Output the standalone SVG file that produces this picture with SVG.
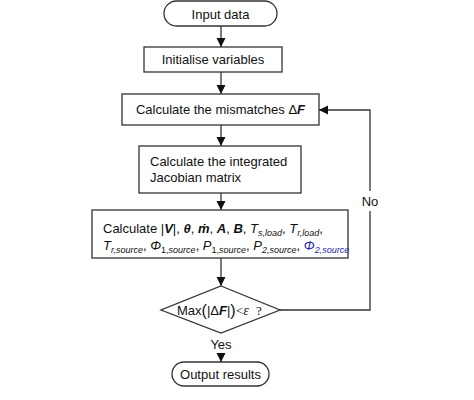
<svg xmlns="http://www.w3.org/2000/svg" width="474" height="400" viewBox="0 0 474 400">
<style>
.b{fill:#fff;stroke:#333;stroke-width:1.3}
.t{font-family:"Liberation Sans",Arial,sans-serif;font-size:13px;fill:#111}
.c{fill:none;stroke:#333;stroke-width:1.3}
.bi{font-weight:bold;font-style:italic}
.i{font-style:italic}
.s{font-size:9px;font-style:italic}
.sr{font-family:"Liberation Serif","Times New Roman",serif}
</style>
<defs>
<marker id="ah" markerWidth="10" markerHeight="10" refX="9" refY="5" orient="auto" markerUnits="userSpaceOnUse">
<path d="M0,0.5 L9,5 L0,9.5 Z" fill="#111"/>
</marker>
</defs>
<rect width="474" height="400" fill="#fff"/>
<g id="connectors">
<line class="c" x1="221" y1="26" x2="221" y2="47" marker-end="url(#ah)"/>
<line class="c" x1="221" y1="72" x2="221" y2="94" marker-end="url(#ah)"/>
<line class="c" x1="221" y1="125" x2="221" y2="146" marker-end="url(#ah)"/>
<line class="c" x1="221" y1="193" x2="221" y2="210" marker-end="url(#ah)"/>
<line class="c" x1="221" y1="258" x2="221" y2="286" marker-end="url(#ah)"/>
<line class="c" x1="221" y1="353" x2="221" y2="362" marker-end="url(#ah)"/>
<polyline class="c" points="280,310 370,310 370,211"/>
<polyline class="c" points="370,191 370,110 319,110" marker-end="url(#ah)"/>
<text class="t" x="370" y="206" text-anchor="middle">No</text>
<text class="t" x="221" y="349" text-anchor="middle">Yes</text>
</g>
<g id="input">
<rect class="b" x="164" y="1" width="113" height="25" rx="12.5"/>
<text class="t" x="220.5" y="18.5" text-anchor="middle">Input data</text>
</g>
<g id="init">
<rect class="b" x="144" y="47" width="138" height="25"/>
<text class="t" x="213" y="64" text-anchor="middle">Initialise variables</text>
</g>
<g id="mismatch">
<rect class="b" x="122" y="94" width="197" height="31"/>
<text class="t" x="220.5" y="114" text-anchor="middle">Calculate the mismatches Δ<tspan class="bi">F</tspan></text>
</g>
<g id="jacobian">
<rect class="b" x="139" y="146" width="162" height="47"/>
<text class="t" x="150" y="166">Calculate the integrated</text>
<text class="t" x="150" y="182">Jacobian matrix</text>
</g>
<g id="calc">
<rect class="b" x="92" y="210" width="256" height="48"/>
<text class="t" x="103" y="233">Calculate |<tspan class="bi">V</tspan>|, <tspan class="bi">θ</tspan>, <tspan class="bi">ṁ</tspan>, <tspan class="bi">A</tspan>, <tspan class="bi">B</tspan>, <tspan class="i">T</tspan><tspan class="s" dy="3">s,load</tspan><tspan dy="-3">, </tspan><tspan class="i">T</tspan><tspan class="s" dy="3">r,load</tspan><tspan dy="-3">,</tspan></text>
<text class="t" x="103" y="250"><tspan class="i">T</tspan><tspan class="s" dy="3">r,source</tspan><tspan dy="-3">, </tspan><tspan class="i">Φ</tspan><tspan font-size="9" dy="3">1,</tspan><tspan class="s">source</tspan><tspan dy="-3">, </tspan><tspan class="i">P</tspan><tspan font-size="9" dy="3">1,</tspan><tspan class="s">source</tspan><tspan dy="-3">, </tspan><tspan class="i">P</tspan><tspan class="s" dy="3">2,source</tspan><tspan dy="-3">, </tspan><tspan fill="#2a2aa8"><tspan class="i">Φ</tspan><tspan class="s" dy="3">2,source</tspan></tspan></text>
</g>
<g id="decision">
<polygon class="b" points="221,286 280,310 221,333 161,310"/>
<text class="t" x="177" y="315">Max<tspan font-size="16" dy="0.5">(</tspan><tspan dy="-0.5">|Δ</tspan><tspan class="bi">F</tspan>|<tspan font-size="16" dy="0.5">)</tspan><tspan class="sr" x="236" dy="-0.5">&lt;</tspan><tspan class="sr" font-style="italic" font-size="14">ε</tspan><tspan class="sr" x="256">?</tspan></text>
</g>
<g id="output">
<rect class="b" x="172" y="362" width="97" height="24" rx="12"/>
<text class="t" x="220.5" y="378.5" text-anchor="middle">Output results</text>
</g>
</svg>
